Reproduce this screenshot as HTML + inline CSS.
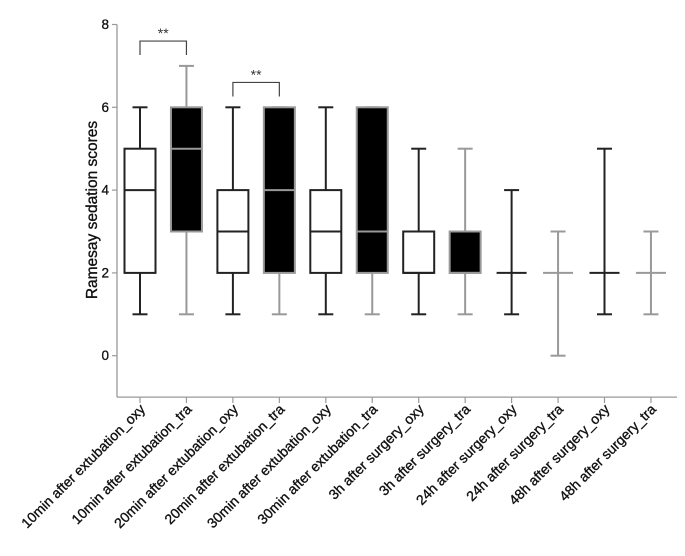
<!DOCTYPE html>
<html><head><meta charset="utf-8"><style>
html,body{margin:0;padding:0;background:#fff;}
svg text{font-family:"Liberation Sans",Arial,sans-serif;}
</style></head><body>
<svg id="chart" width="685" height="551" viewBox="0 0 685 551" xmlns="http://www.w3.org/2000/svg"></svg>
<script>
const categories=["10min after extubation_oxy","10min after extubation_tra","20min after extubation_oxy","20min after extubation_tra","30min after extubation_oxy","30min after extubation_tra","3h after surgery_oxy","3h after surgery_tra","24h after surgery_oxy","24h after surgery_tra","48h after surgery_oxy","48h after surgery_tra"];
const mins=[1,1,1,1,1,1,1,1,1,0,1,1];
const q1s=[2,3,2,2,2,2,2,2,2,2,2,2];
const medians=[4,5,3,4,3,3,2,2,2,2,2,2];
const q3s=[5,6,4,6,4,6,3,3,2,2,2,2];
const maxs=[6,7,6,6,6,6,5,5,4,3,5,3];
const yTicks=[0,2,4,6,8];
const sigPairs=[[0,1,7.6],[2,3,6.6]];
const sigLabels=["**","**"];

const svg=document.getElementById('chart');
const NS="http://www.w3.org/2000/svg";
const yScale=v=>355.7-v*41.4;
const xScale=i=>140+i*46.45;
function mk(tag,attrs,parent){const e=document.createElementNS(NS,tag);for(const k in attrs)e.setAttribute(k,attrs[k]);(parent||svg).appendChild(e);return e;}

let ax=mk('line',{x1:117,y1:yScale(8),x2:117,y2:yScale(-1),stroke:'#999','stroke-width':1.3});


let bx=mk('line',{x1:117,y1:yScale(-1),x2:677,y2:yScale(-1),stroke:'#999','stroke-width':1.3});


yTicks.forEach(t=>{
  let l=mk('line',{x1:112,y1:yScale(t),x2:117,y2:yScale(t),stroke:'#999','stroke-width':1.2});
  
  
  let tx=mk('text',{x:109,y:yScale(t)+4.5,'text-anchor':'end','font-size':13.5,fill:'#111',stroke:'#111','stroke-width':0.3});
  tx.textContent=t;
  
  
});
let yt=mk('text',{x:0,y:0,transform:'translate(97,210) rotate(-90)','text-anchor':'middle','font-size':15.5,fill:'#111',stroke:'#111','stroke-width':0.35});
yt.textContent='Ramesay sedation scores';



categories.forEach((c,i)=>{
  const x=xScale(i);
  const tra=i%2===1;
  const col=tra?'#999':'#222';
  const g=mk('g',{});
  
  
  mk('line',{x1:x,y1:yScale(maxs[i]),x2:x,y2:yScale(q3s[i]),stroke:col,'stroke-width':2},g);
  mk('line',{x1:x,y1:yScale(q1s[i]),x2:x,y2:yScale(mins[i]),stroke:col,'stroke-width':2},g);
  mk('line',{x1:x-7.5,y1:yScale(maxs[i]),x2:x+7.5,y2:yScale(maxs[i]),stroke:col,'stroke-width':2},g);
  mk('line',{x1:x-7.5,y1:yScale(mins[i]),x2:x+7.5,y2:yScale(mins[i]),stroke:col,'stroke-width':2},g);
  if(q3s[i]>q1s[i]){
    mk('rect',{x:x-15.5,y:yScale(q3s[i]),width:31,height:yScale(q1s[i])-yScale(q3s[i]),fill:tra?'#000':'#fff',stroke:col,'stroke-width':2},g);
  }
  const mw=(q3s[i]>q1s[i])?15.5:15;
  mk('line',{x1:x-mw,y1:yScale(medians[i]),x2:x+mw,y2:yScale(medians[i]),stroke:col,'stroke-width':2},g);
  let tk=mk('line',{x1:x,y1:yScale(-1),x2:x,y2:yScale(-1)+6,stroke:'#999','stroke-width':1.2});
  
  
  let lb=mk('text',{x:0,y:0,transform:`translate(${x+6},${yScale(-1)+13}) rotate(-45)`,'text-anchor':'end','font-size':14,fill:'#111',stroke:'#111','stroke-width':0.35});
  lb.textContent=c;
  
  
});

sigPairs.forEach((p,k)=>{
  const x1=xScale(p[0]),x2=xScale(p[1]),y=yScale(p[2]);
  let br=mk('path',{d:`M${x1},${y+14}V${y}H${x2}V${y+14}`,fill:'none',stroke:'#444','stroke-width':1.2});
  
  
  let st=mk('text',{x:(x1+x2)/2,y:y-3,'text-anchor':'middle','font-size':14,fill:'#333'});
  st.textContent=sigLabels[k];
  
  
});
</script>
</body></html>
